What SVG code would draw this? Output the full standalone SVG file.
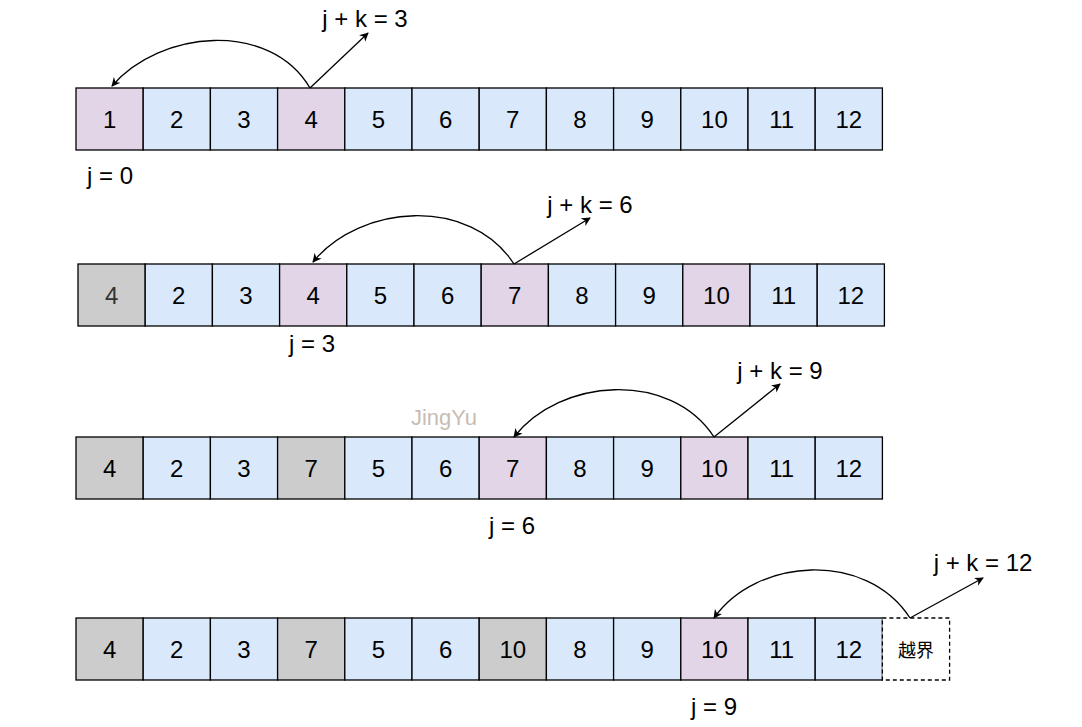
<svg xmlns="http://www.w3.org/2000/svg" width="1082" height="727" viewBox="0 0 1082 727">
<style>
rect{stroke:#000;stroke-width:1.3}
.b{fill:#dae8fc}.p{fill:#e1d5e7}.g{fill:#cccccc}
text{font-family:"Liberation Sans",Arial,sans-serif;font-size:24px;text-anchor:middle;dominant-baseline:central;fill:#000}
.l{fill:#333}
.c path{fill:none;stroke:#000;stroke-width:1.3;marker-end:url(#a)}
</style>
<defs><marker id="a" viewBox="0 0 10 10" refX="9" refY="5" markerWidth="9" markerHeight="9" orient="auto" markerUnits="userSpaceOnUse"><path d="M0,0 L10,5 L0,10 L3,5 z" fill="#000"/></marker></defs>
<rect width="1082" height="727" fill="#fff" style="stroke:none"/>
<g id="row1">
<rect class="p" x="76" y="88" width="67.2" height="62"/><text x="109.6" y="119">1</text>
<rect class="b" x="143.2" y="88" width="67.2" height="62"/><text x="176.8" y="119">2</text>
<rect class="b" x="210.4" y="88" width="67.2" height="62"/><text x="244" y="119">3</text>
<rect class="p" x="277.6" y="88" width="67.2" height="62"/><text x="311.2" y="119">4</text>
<rect class="b" x="344.8" y="88" width="67.2" height="62"/><text x="378.4" y="119">5</text>
<rect class="b" x="412" y="88" width="67.2" height="62"/><text x="445.6" y="119">6</text>
<rect class="b" x="479.2" y="88" width="67.2" height="62"/><text x="512.8" y="119">7</text>
<rect class="b" x="546.4" y="88" width="67.2" height="62"/><text x="580" y="119">8</text>
<rect class="b" x="613.6" y="88" width="67.2" height="62"/><text x="647.2" y="119">9</text>
<rect class="b" x="680.8" y="88" width="67.2" height="62"/><text x="714.4" y="119">10</text>
<rect class="b" x="748" y="88" width="67.2" height="62"/><text x="781.6" y="119">11</text>
<rect class="b" x="815.2" y="88" width="67.2" height="62"/><text x="848.8" y="119">12</text>
</g>
<g id="row2">
<rect class="g" x="78" y="264" width="67.2" height="62"/><text class="l" x="111.6" y="295">4</text>
<rect class="b" x="145.2" y="264" width="67.2" height="62"/><text x="178.8" y="295">2</text>
<rect class="b" x="212.4" y="264" width="67.2" height="62"/><text x="246" y="295">3</text>
<rect class="p" x="279.6" y="264" width="67.2" height="62"/><text x="313.2" y="295">4</text>
<rect class="b" x="346.8" y="264" width="67.2" height="62"/><text x="380.4" y="295">5</text>
<rect class="b" x="414" y="264" width="67.2" height="62"/><text x="447.6" y="295">6</text>
<rect class="p" x="481.2" y="264" width="67.2" height="62"/><text x="514.8" y="295">7</text>
<rect class="b" x="548.4" y="264" width="67.2" height="62"/><text x="582" y="295">8</text>
<rect class="b" x="615.6" y="264" width="67.2" height="62"/><text x="649.2" y="295">9</text>
<rect class="p" x="682.8" y="264" width="67.2" height="62"/><text x="716.4" y="295">10</text>
<rect class="b" x="750" y="264" width="67.2" height="62"/><text x="783.6" y="295">11</text>
<rect class="b" x="817.2" y="264" width="67.2" height="62"/><text x="850.8" y="295">12</text>
</g>
<g id="row3">
<rect class="g" x="76" y="437" width="67.2" height="62"/><text x="109.6" y="468">4</text>
<rect class="b" x="143.2" y="437" width="67.2" height="62"/><text x="176.8" y="468">2</text>
<rect class="b" x="210.4" y="437" width="67.2" height="62"/><text x="244" y="468">3</text>
<rect class="g" x="277.6" y="437" width="67.2" height="62"/><text x="311.2" y="468">7</text>
<rect class="b" x="344.8" y="437" width="67.2" height="62"/><text x="378.4" y="468">5</text>
<rect class="b" x="412" y="437" width="67.2" height="62"/><text x="445.6" y="468">6</text>
<rect class="p" x="479.2" y="437" width="67.2" height="62"/><text x="512.8" y="468">7</text>
<rect class="b" x="546.4" y="437" width="67.2" height="62"/><text x="580" y="468">8</text>
<rect class="b" x="613.6" y="437" width="67.2" height="62"/><text x="647.2" y="468">9</text>
<rect class="p" x="680.8" y="437" width="67.2" height="62"/><text x="714.4" y="468">10</text>
<rect class="b" x="748" y="437" width="67.2" height="62"/><text x="781.6" y="468">11</text>
<rect class="b" x="815.2" y="437" width="67.2" height="62"/><text x="848.8" y="468">12</text>
</g>
<g id="row4">
<rect class="g" x="76" y="618" width="67.2" height="62"/><text x="109.6" y="649">4</text>
<rect class="b" x="143.2" y="618" width="67.2" height="62"/><text x="176.8" y="649">2</text>
<rect class="b" x="210.4" y="618" width="67.2" height="62"/><text x="244" y="649">3</text>
<rect class="g" x="277.6" y="618" width="67.2" height="62"/><text x="311.2" y="649">7</text>
<rect class="b" x="344.8" y="618" width="67.2" height="62"/><text x="378.4" y="649">5</text>
<rect class="b" x="412" y="618" width="67.2" height="62"/><text x="445.6" y="649">6</text>
<rect class="g" x="479.2" y="618" width="67.2" height="62"/><text x="512.8" y="649">10</text>
<rect class="b" x="546.4" y="618" width="67.2" height="62"/><text x="580" y="649">8</text>
<rect class="b" x="613.6" y="618" width="67.2" height="62"/><text x="647.2" y="649">9</text>
<rect class="p" x="680.8" y="618" width="67.2" height="62"/><text x="714.4" y="649">10</text>
<rect class="b" x="748" y="618" width="67.2" height="62"/><text x="781.6" y="649">11</text>
<rect class="b" x="815.2" y="618" width="67.2" height="62"/><text x="848.8" y="649">12</text>
<rect x="882.4" y="618" width="67.2" height="62" fill="#fff" stroke-dasharray="4 3"/><text x="916" y="649" style="font-size:18px;font-family:'Noto Sans CJK SC',sans-serif">越界</text>
</g>
<g class="c" id="connectors">
<path d="M310,88 C270,20 160,30 112,86"/>
<path d="M310,88 L368,33"/>
<path d="M514,264 C470,196 360,204 313,262"/>
<path d="M514,264 L590,218"/>
<path d="M714,437 C670,370 560,378 514,437"/>
<path d="M714,437 L780,384"/>
<path d="M910,618 C866,550 756,558 714,618"/>
<path d="M910,618 L983,578"/>
</g>
<g id="labels">
<text x="365" y="18">j + k = 3</text>
<text x="110" y="175">j = 0</text>
<text x="590" y="204">j + k = 6</text>
<text x="312" y="343">j = 3</text>
<text x="780" y="370">j + k = 9</text>
<text x="512" y="525">j = 6</text>
<text x="983" y="562">j + k = 12</text>
<text x="714" y="706">j = 9</text>
<text x="444" y="417" style="fill:#c8bcb4;font-size:22px">JingYu</text>
</g>
</svg>
